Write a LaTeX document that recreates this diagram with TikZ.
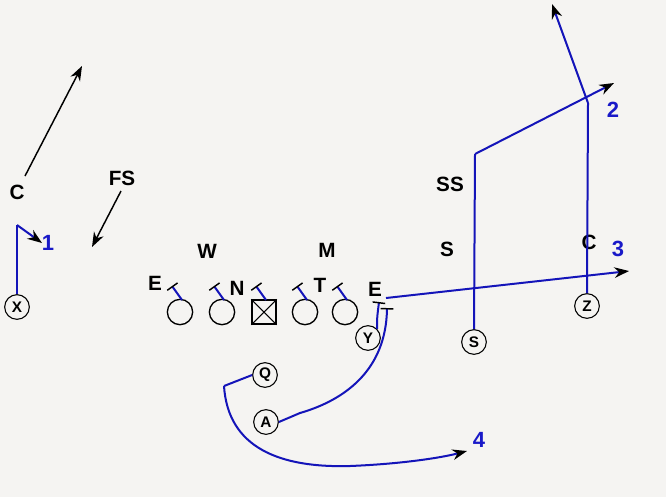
\documentclass[tikz,border=0pt]{standalone}
\usepackage{fontspec}
\setmainfont{Liberation Sans}
\usetikzlibrary{arrows.meta}
\definecolor{bg}{RGB}{245,244,242}
\definecolor{route}{RGB}{20,20,185}
\definecolor{num}{RGB}{25,25,200}
\tikzset{
  defl/.style={font=\bfseries\fontsize{15.5}{15.5}\selectfont, inner sep=0pt},
  numl/.style={font=\bfseries\fontsize{16.5}{16.5}\selectfont, text=num, inner sep=0pt},
  player/.style={draw, circle, minimum size=18.5pt, inner sep=0pt, line width=0.8pt, font=\bfseries\fontsize{11.5}{11.5}\selectfont},
  oline/.style={draw, circle, minimum size=19pt, inner sep=0pt, line width=1pt},
  center/.style={draw, rectangle, minimum size=18pt, inner sep=0pt, line width=1pt},
  rt/.style={draw=route, line width=1.5pt},
  darrow/.style={draw=black, line width=1.1pt, -{Stealth[length=11pt,width=8pt]}},
  rarrow/.style={rt, -{Stealth[length=11pt,width=8pt,black]}},
  blk/.style={rt, -{Bar[width=9.5pt,line width=1.1pt,black]}},
}
\begin{document}
\begin{tikzpicture}[x=0.75pt,y=-0.75pt]
\fill[bg] (0,0) rectangle (666,497);
\useasboundingbox (0,0) rectangle (666,497);

% offensive players
\node[player] (X) at (17,307) {X};
\node[player] (Y) at (368,338) {Y};
\node[player] (S) at (474,342) {S};
\node[player] (Z) at (587,306) {Z};
\node[player] (Q) at (265,375) {Q};
\node[player] (A) at (266,422) {A};
\node[oline] (L1) at (180,312) {};
\node[oline] (L2) at (222,312) {};
\node[center] (C0) at (264,312) {};
\draw[line width=0.8pt] (C0.north west) -- (C0.south east) (C0.north east) -- (C0.south west);
\node[oline] (L4) at (305,312) {};
\node[oline] (L5) at (345,312) {};

% defenders
\node[defl] (dC1) at (17,192) {C};
\node[defl] (dFS) at (122,178) {FS};
\node[defl] (dW) at (207,251) {W};
\node[defl] (dM) at (327,250) {M};
\node[defl] (dS) at (447,249) {S};
\node[defl] (dSS) at (450,184) {SS};
\node[defl] (dC2) at (589,242) {C};
\node[defl] (dE1) at (155,283) {E};
\node[defl] (dN) at (237,288) {N};
\node[defl] (dT) at (320,285) {T};
\node[defl] (dE2) at (375,289) {E};

% numbers
\node[numl] (n1) at (48,243) {1};
\node[numl] (n2) at (613,110) {2};
\node[numl] (n3) at (618,249) {3};
\node[numl] (n4) at (479,440) {4};

% defender arrows
\coordinate (c1a) at (25,176);
\coordinate (c1b) at (82,66);
\draw[darrow] (c1a) -- (c1b);
\coordinate (fsa) at (121,191);
\coordinate (fsb) at (92,247);
\draw[darrow] (fsa) -- (fsb);

% line blocks
\foreach \n/\x in {L1/180,L2/222,C0/264,L4/305,L5/345}{
  \draw[blk] (\x+2,300) -- (\x-8,286);
}

% X route
\coordinate (x1) at (17,225);
\coordinate (x2) at (42,243);
\draw[rt] (X.north) -- (x1);
\draw[rarrow] (x1) -- (x2);

% S route
\coordinate (s1) at (475,154);
\coordinate (s2) at (614,83);
\draw[rt] (S.north) -- (s1);
\draw[rarrow] (s1) -- (s2);

% Z route
\coordinate (z1) at (588,103);
\coordinate (z2) at (552,4);
\draw[rt] (Z.north) -- (z1);
\draw[rarrow] (z1) -- (z2);

% Y route
\coordinate (y1) at (379,302);
\draw[blk] (Y.north east) .. controls (377,318) .. (y1);
\coordinate (y2) at (386,298);
\coordinate (y3) at (629,271);
\draw[rarrow] (y2) -- (y3);

% A route
\coordinate (a1) at (387,308);
\draw[blk] (A.east) -- (300,413) .. controls (345,400) and (386,370) .. (a1);

% Q route
\coordinate (q1) at (224,386);
\coordinate (q2) at (467,451);
\draw[rt] (Q.west) -- (q1);
\draw[rarrow] (q1) .. controls (228,448) and (280,468) .. (350,466) .. controls (400,464) and (440,458) .. (q2);
\end{tikzpicture}
\end{document}
